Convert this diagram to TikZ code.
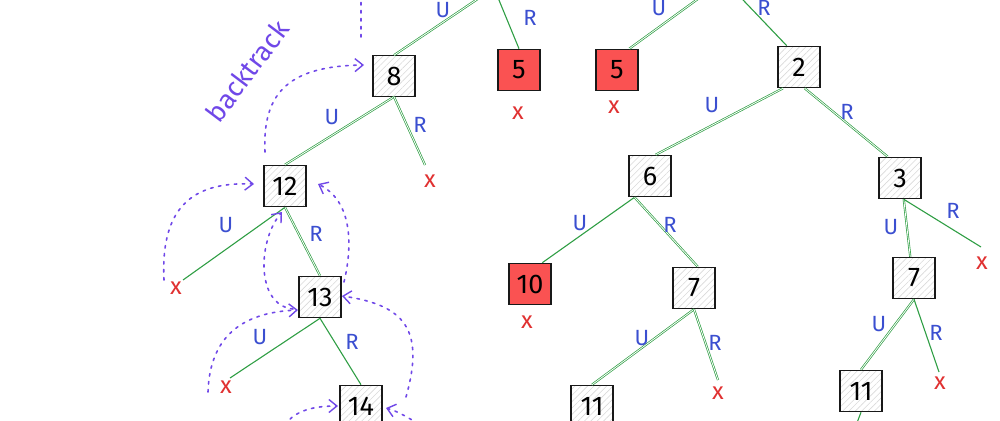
\documentclass[tikz,border=0pt]{standalone}
\usepackage{fontspec}
\setmainfont{Fira Sans}
\usetikzlibrary{arrows.meta,patterns.meta}
\definecolor{edgeg}{HTML}{2F9E44}
\definecolor{lblue}{HTML}{3B4FD0}
\definecolor{xred}{HTML}{E03131}
\definecolor{bpurple}{HTML}{7048E8}
\definecolor{boxred}{HTML}{FA5252}
\tikzset{
  boxbase/.style={draw=black!90, line width=1.6pt, minimum width=42pt, minimum height=41pt,
    inner sep=0pt, font=\fontsize{27}{27}\selectfont},
  box/.style={boxbase, fill=white, pattern={Lines[angle=45,distance=4.5pt,line width=0.6pt]}, pattern color=gray!30},
  redbox/.style={boxbase, fill=boxred},
  sedge/.style={draw=edgeg, line width=1.1pt},
  dedge/.style={draw=edgeg, line width=0.7pt, double=white, double distance=0.8pt},
  lbl/.style={text=lblue, font=\fontsize{22}{22}\selectfont, inner sep=0pt},
  xm/.style={text=xred, font=\fontsize{24}{24}\selectfont, inner sep=0pt},
  bt/.style={draw=bpurple, line width=1.6pt, dash pattern=on 2.5pt off 5.5pt, line cap=round},
  bta/.style={bt, -{Straight Barb[length=8pt,width=13pt,line width=1.4pt]}}
}
\begin{document}
\begin{tikzpicture}[x=1pt,y=-1pt]
\useasboundingbox (0,0) rectangle (1000,420);
\clip (0,0) rectangle (1000,420);
% off-canvas parents
\coordinate (p1) at (494,-12);
\coordinate (p2) at (724,-20);
% nodes
\node[box] (n8) at (394,76) {8};
\node[redbox] (n5a) at (519,70) {5};
\node[redbox] (n5b) at (617,70) {5};
\node[box] (n2) at (799,67) {2};
\node[box] (n12) at (285,186) {12};
\node[box] (n6) at (650,176) {6};
\node[box] (n3) at (900,178) {3};
\node[box] (n13) at (320,297) {13};
\node[redbox] (n10) at (530,284) {10};
\node[box] (n7a) at (694,288) {7};
\node[box] (n7b) at (914,278) {7};
\node[box] (n14) at (361,406) {14};
\node[box] (n11a) at (592,406) {11};
\node[box] (n11b) at (861,391) {11};
% free ends
\coordinate (e8r) at (425,165);
\coordinate (e7a) at (718,380);
\coordinate (e3) at (981,247);
\coordinate (e7b) at (939,372);
\coordinate (e11b) at (855,428);
\coordinate (e12) at (183,280);
\coordinate (e13) at (230,378);
% edges
\draw[dedge] (p1) -- (n8.north);
\draw[sedge] (p1) -- (n5a.north);
\draw[dedge] (p2) -- (n5b.60);
\draw[sedge] (p2) -- (n2.120);
\draw[dedge] (n8.south) -- (n12.north);
\draw[dedge] (n8.south) -- (e8r);
\draw[dedge] (n2.233) -- (n6.75);
\draw[dedge] (n2.-75) -- (n3.120);
\draw[sedge] (n6.234) -- (n10.60);
\draw[dedge] (n6.234) -- (n7a.80);
\draw[dedge] (n7a.south) -- (n11a.north);
\draw[dedge] (n7a.south) -- (e7a);
\draw[dedge] (n3.-80) -- (n7b.100);
\draw[sedge] (n3.-80) -- (e3);
\draw[dedge] (n7b.south) -- (n11b.north);
\draw[sedge] (n7b.south) -- (e7b);
\draw[sedge] (n11b.south) -- (e11b);
\draw[sedge] (n12.south) -- (e12);
\draw[dedge] (n12.south) -- (n13.north);
\draw[sedge] (n13.south) -- (e13);
\draw[sedge] (n13.south) -- (n14.north);
% labels
\node[lbl] (l1) at (443,10) {U};
\node[lbl] (l2) at (530,18) {R};
\node[lbl] (l3) at (659,8) {U};
\node[lbl] (l4) at (764,8) {R};
\node[lbl] (l5) at (332,117) {U};
\node[lbl] (l6) at (420,125) {R};
\node[lbl] (l7) at (712,105) {U};
\node[lbl] (l8) at (847,112) {R};
\node[lbl] (l9) at (580,223) {U};
\node[lbl] (l10) at (670,225) {R};
\node[lbl] (l11) at (642,338) {U};
\node[lbl] (l12) at (715,343) {R};
\node[lbl] (l13) at (891,227) {U};
\node[lbl] (l14) at (953,211) {R};
\node[lbl] (l15) at (879,324) {U};
\node[lbl] (l16) at (936,333) {R};
\node[lbl] (l17) at (226,225) {U};
\node[lbl] (l18) at (316,234) {R};
\node[lbl] (l19) at (260,337) {U};
\node[lbl] (l20) at (352,342) {R};
% x marks
\node[xm] (x8) at (430,181) {x};
\node[xm] (x5a) at (518,113) {x};
\node[xm] (x5b) at (614,107) {x};
\node[xm] (x10) at (527,322) {x};
\node[xm] (x7a) at (718,393) {x};
\node[xm] (x3) at (982,263) {x};
\node[xm] (x7b) at (940,383) {x};
\node[xm] (x12) at (176,288) {x};
\node[xm] (x13) at (226,387) {x};
% backtrack annotation
\node[rotate=53, text=bpurple, font=\fontsize{27}{27}\selectfont, inner sep=0pt] (btl) at (247,71) {backtrack};
\coordinate (b0a) at (361,37);
\coordinate (b0b) at (361,-5);
\draw[bt] (b0a) -- (b0b);
\coordinate (bA) at (265,152);
\coordinate (bAe) at (364,65);
\draw[bta] (bA) .. controls (262,90) and (292,66) .. (bAe);
\coordinate (bC) at (164,280);
\coordinate (bCe) at (254,184);
\draw[bta] (bC) .. controls (160,200) and (200,182) .. (bCe);
\coordinate (bD) at (293,309);
\coordinate (bDe) at (282,212);
\draw[bta] (bD) .. controls (255,305) and (258,240) .. (bDe);
\coordinate (bE) at (344,282);
\coordinate (bEe) at (318,184);
\draw[bta] (bE) .. controls (354,240) and (350,200) .. (bEe);
\coordinate (bF) at (208,392);
\coordinate (bFe) at (298,310);
\draw[bta] (bF) .. controls (210,330) and (250,312) .. (bFe);
\coordinate (bG) at (406,397);
\coordinate (bGe) at (342,296);
\draw[bta] (bG) .. controls (425,330) and (405,305) .. (bGe);
\coordinate (bH) at (285,425);
\coordinate (bHe) at (338,406);
\draw[bta] (bH) .. controls (295,410) and (315,406) .. (bHe);
\coordinate (bI) at (425,428);
\coordinate (bIe) at (386,408);
\draw[bta] (bI) .. controls (412,420) and (400,412) .. (bIe);
\end{tikzpicture}
\end{document}
